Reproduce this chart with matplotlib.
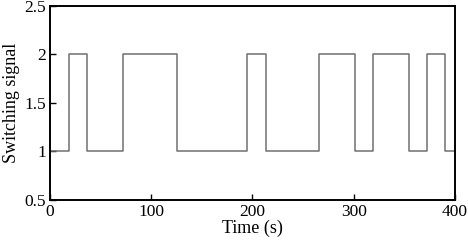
import matplotlib
matplotlib.use('Agg')
import matplotlib.pyplot as plt

# switching instants (s) and signal levels
switch_times = [0, 19, 36, 72, 125, 195, 213, 266, 301, 319, 355, 372, 390, 400]
levels = [1, 2, 1, 2, 1, 2, 1, 2, 1, 2, 1, 2, 1, 1]

plt.rcParams['font.family'] = ['Liberation Serif', 'DejaVu Serif']
plt.rcParams['font.size'] = 12.5

fig = plt.figure(figsize=(4.68, 2.4), dpi=100)
ax = fig.add_axes([0.107, 0.167, 0.865, 0.808])
ax.step(switch_times, levels, where='post', color='#707070', lw=1.1)

ax.set_xlim(0, 400)
ax.set_ylim(0.5, 2.5)
ax.set_xticks([0, 100, 200, 300, 400])
ax.set_yticks([0.5, 1, 1.5, 2, 2.5])
ax.set_yticklabels(['0.5', '1', '1.5', '2', '2.5'])
ax.tick_params(direction='in', length=4, width=1, pad=3)
for s in ax.spines.values():
    s.set_linewidth(1.4)
ax.set_xlabel('Time (s)', fontsize=13, labelpad=0)
ax.set_ylabel('Switching signal', fontsize=13, labelpad=3)

fig.savefig('out.png', dpi=100)
